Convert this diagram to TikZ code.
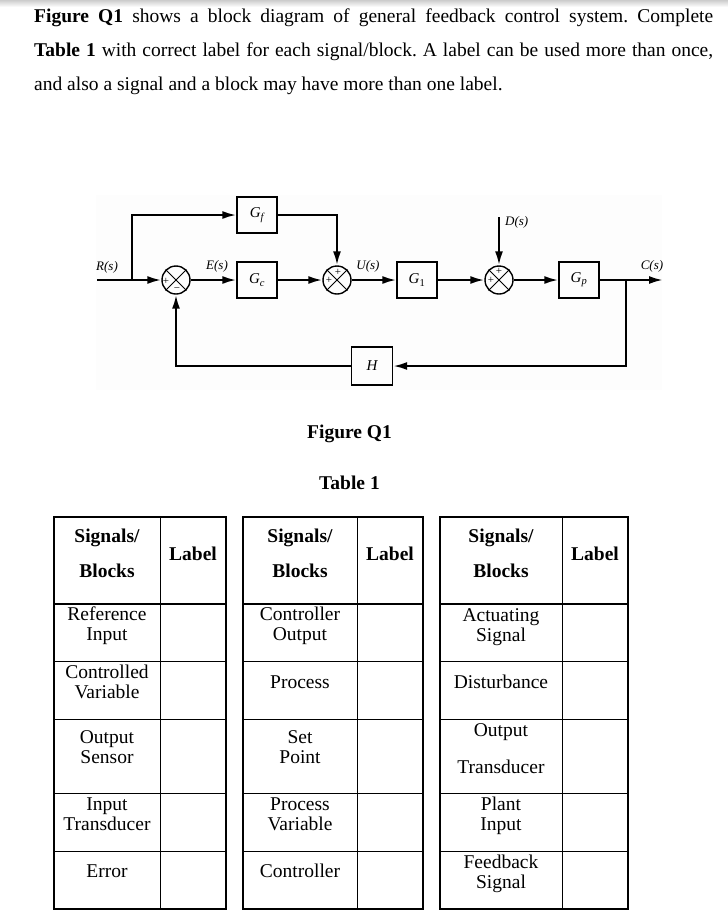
\documentclass[tikz,border=0pt]{standalone}
\usepackage{fontspec}
\setmainfont{Liberation Serif}
\usetikzlibrary{positioning}
\usetikzlibrary{shapes,arrows.meta}

\newcommand{\twoline}[3][0pt]{\begin{tabular}[t]{@{}c@{}}#2\\[#1]#3\end{tabular}}

\begin{document}
\frenchspacing
\begin{tikzpicture}[x=1pt,y=-1pt,
	sig/.style={line width=2.2pt,-{Latex[length=14pt,width=8pt]}},
	blk/.style={draw,line width=1.3pt,minimum width=40pt,minimum height=36pt,inner sep=0pt,font=\fontsize{15}{16}\selectfont\itshape},
	sum/.style={draw,circle,line width=1.4pt,minimum size=28pt,inner sep=0pt},
	sgn/.style={inner sep=0pt,font=\fontsize{11}{11}\selectfont},
	lbl/.style={inner sep=0pt,font=\fontsize{13}{14}\selectfont\itshape},
	txt/.style={anchor=base,inner sep=0pt,font=\fontsize{19.5}{20}\selectfont},
	head/.style={anchor=base,inner sep=0pt,font=\fontsize{19.5}{20}\selectfont\bfseries}]
		\useasboundingbox (0,0) rectangle (728,922);
		\shade[top color=gray!40,bottom color=white] (0,0) rectangle (728,7);
		
		% question text
		\node[txt,anchor=base west] (line1) at (34,22) {\makebox[679pt][s]{\textbf{Figure Q1} shows a block diagram of general feedback control system. Complete}};
		\node[txt,anchor=base west] (line2) at (34,56) {\makebox[679pt][s]{\textbf{Table 1} with correct label for each signal/block. A label can be used more than once,}};
		\node[txt,anchor=base west] (line3) at (34,90) {and also a signal and a block may have more than one label.};
		
		% block diagram
		\fill[gray!1.5] (96,195) rectangle (662,390);
		\node[sum] (sA) at (176,280) {};
		\node[sum] (sB) at (337,280) {};
		\node[sum] (sC) at (499,280) {};
		\draw[line width=1pt] (sA.north east) -- (sA.south west) (sA.north west) -- (sA.south east);
		\draw[line width=1pt] (sB.north east) -- (sB.south west) (sB.north west) -- (sB.south east);
		\draw[line width=1pt] (sC.north east) -- (sC.south west) (sC.north west) -- (sC.south east);
		\node[sgn] (pA) at (166,281) {+};
		\node[sgn] (mA) at (177,289.5) {−};
		\node[sgn] (pB1) at (338,272) {+};
		\node[sgn] (pB2) at (329,280) {+};
		\node[sgn] (pC1) at (499,271) {+};
		\node[sgn] (pC2) at (491,280) {+};
		
		\node[blk] (Gf) at (257,215) {G\textsubscript{f}};
		\node[blk] (Gc) at (257,280) {G\textsubscript{c}};
		\node[blk] (G1) at (417,280) {G\textsubscript{\upshape 1}};
		\node[blk] (Gp) at (579,280) {G\textsubscript{p}};
		\node[blk,minimum width=41pt,minimum height=38pt] (H) at (372,366) {H};
		
		\coordinate (in) at (97,280);
		\coordinate (br) at (132,280);
		\coordinate (tk) at (626,280);
		\coordinate (out) at (663,280);
		\coordinate (dtop) at (499,217);
		
		\draw[sig] (in) -- (sA);
		\draw[sig] (br) |- (Gf);
		\draw[sig] (Gf) -| (sB);
		\draw[sig] (sA) -- (Gc);
		\draw[sig] (Gc) -- (sB);
		\draw[sig] (sB) -- (G1);
		\draw[sig] (G1) -- (sC);
		\draw[sig] (dtop) -- (sC);
		\draw[sig] (sC) -- (Gp);
		\draw[sig] (Gp) -- (out);
		\draw[sig] (tk) |- (H);
		\draw[sig] (H) -| (sA);
		
		\node[lbl] (Rs) at (107,267) {R(s)};
		\node[lbl] (Es) at (217,266) {E(s)};
		\node[lbl] (Us) at (368,266) {U(s)};
		\node[lbl] (Cs) at (652,266) {C(s)};
		\node[lbl,anchor=west] (Ds) at (505,222) {D(s)};
		
		\node[head] (figcap) at (349.5,438) {Figure Q1};
		\node[head] (tabcap) at (349.5,489) {Table 1};
		
		% table 1, left part
		\draw[line width=2pt] (54,517) rectangle (226,909);
		\draw[line width=1.6pt] (54,604) -- (226,604);
		\draw[line width=1pt] (160,517) -- (160,909);
		\draw[line width=1pt] (54,661) -- (226,661) (54,719) -- (226,719) (54,793) -- (226,793) (54,851) -- (226,851);
		% middle part
		\draw[line width=2pt] (243,517) rectangle (423,909);
		\draw[line width=1.6pt] (243,604) -- (423,604);
		\draw[line width=1pt] (357,517) -- (357,909);
		\draw[line width=1pt] (243,661) -- (423,661) (243,719) -- (423,719) (243,793) -- (423,793) (243,851) -- (423,851);
		% right part
		\draw[line width=2pt] (440,517) rectangle (628,909);
		\draw[line width=1.6pt] (440,604) -- (628,604);
		\draw[line width=1pt] (562,517) -- (562,909);
		\draw[line width=1pt] (440,661) -- (628,661) (440,719) -- (628,719) (440,793) -- (628,793) (440,851) -- (628,851);
		
		\node[head] (sbA) at (107,542) {\twoline[15pt]{Signals/}{Blocks}};
		\node[head] (lbA) at (193,560) {Label};
		\node[head] (sbB) at (300,542) {\twoline[15pt]{Signals/}{Blocks}};
		\node[head] (lbB) at (390,560) {Label};
		\node[head] (sbC) at (501,542) {\twoline[15pt]{Signals/}{Blocks}};
		\node[head] (lbC) at (595,560) {Label};
		
		\node[txt] (refin) at (107,620) {\twoline{Reference}{Input}};
		\node[txt] (ctrlvar) at (107,678) {\twoline{Controlled}{Variable}};
		\node[txt] (outsens) at (107,743) {\twoline{Output}{Sensor}};
		\node[txt] (intrans) at (107,810) {\twoline{Input}{Transducer}};
		\node[txt] (err) at (107,877) {Error};
		
		\node[txt] (ctrlout) at (300,620) {\twoline{Controller}{Output}};
		\node[txt] (process) at (300,688) {Process};
		\node[txt] (setpt) at (300,743) {\twoline{Set}{Point}};
		\node[txt] (procvar) at (300,810) {\twoline{Process}{Variable}};
		\node[txt] (ctrl) at (300,877) {Controller};
		
		\node[txt] (actsig) at (501,621) {\twoline{Actuating}{Signal}};
		\node[txt] (disturb) at (501,688) {Disturbance};
		\node[txt] (outtrans) at (501,736) {\twoline[17pt]{Output}{Transducer}};
		\node[txt] (plantin) at (501,810) {\twoline{Plant}{Input}};
		\node[txt] (fbsig) at (501,868) {\twoline{Feedback}{Signal}};
	\end{tikzpicture}
\end{document}
